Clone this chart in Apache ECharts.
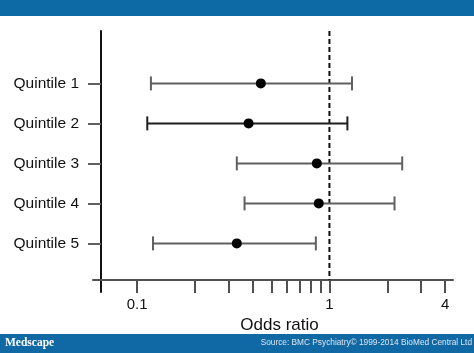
<!DOCTYPE html>
<html>
	<head>
		<meta charset="UTF-8">
		<title>Odds ratio by quintile</title>
		<script src="https://cdn.jsdelivr.net/npm/echarts@6/dist/echarts.min.js"></script>
		<style>
			html, body { margin: 0; padding: 0; background: #fff; }
			#chart { width: 474px; height: 353px; }
		</style>
	</head>
	<body>
		<div id="chart"></div>
		<script>
			// data
			var quintiles = ['Quintile 1', 'Quintile 2', 'Quintile 3', 'Quintile 4', 'Quintile 5'];
			var oddsRatio = [0.44, 0.38, 0.86, 0.88, 0.33];
			var ciLow = [0.118, 0.113, 0.33, 0.362, 0.121];
			var ciHigh = [1.31, 1.24, 2.39, 2.18, 0.85];
			var barColors = ['#606060', '#1e1e1e', '#606060', '#606060', '#606060'];
			var xTicks = [0.1, 0.2, 0.3, 0.4, 0.5, 0.6, 0.7, 0.8, 0.9, 1, 2, 3, 4];
			var xLabels = [0.1, 1, 4];
			var refValue = 1;

			var yMin = -0.31, yMax = 6.215, yAxisLine = 5.907;

			var rows = quintiles.map(function (q, i) {
				return [i + 1, ciLow[i], ciHigh[i], oddsRatio[i]];
			});

			var chart = echarts.init(document.getElementById('chart'), null, { renderer: 'canvas' });

			chart.setOption({
				animation: false,
				grid: { left: 93, right: 21, top: 31, bottom: 61 },
				xAxis: {
					type: 'log',
					logBase: 10,
					min: 0.059,
					max: 4.39,
					position: 'bottom',
					offset: -12,
					name: 'Odds ratio',
					nameLocation: 'middle',
					nameGap: 32,
					nameTextStyle: { fontFamily: 'Liberation Sans', fontSize: 17, color: '#111', padding: [0, 0, 0, 13] },
					axisLine: { onZero: false, lineStyle: { color: '#505050', width: 2 } },
					axisTick: { length: 13, customValues: xTicks, lineStyle: { color: '#505050', width: 2 } },
					axisLabel: {
						customValues: xLabels, margin: 17,
						fontFamily: 'Liberation Sans', fontSize: 15, color: '#111',
						formatter: function (v) { return String(+v.toPrecision(3)); }
					},
					splitLine: { show: false },
					minorTick: { show: false }
				},
				yAxis: {
					type: 'value',
					inverse: true,
					min: yMin,
					max: yMax,
					offset: -8,
					axisLine: { show: true, onZero: false, lineStyle: { color: '#111', width: 2 } },
					axisTick: { show: true, length: 13, customValues: [1, 2, 3, 4, 5], lineStyle: { color: '#606060', width: 2 } },
					axisLabel: {
						customValues: [1, 2, 3, 4, 5], margin: 22,
						fontFamily: 'Liberation Sans', fontSize: 15.5, color: '#111',
						formatter: function (v) { return quintiles[Math.round(v) - 1] || ''; }
					},
					splitLine: { show: false }
				},
				graphic: [
					{ type: 'rect', left: 0, top: 0, shape: { width: 474, height: 16 }, style: { fill: '#0e6aa5' } },
					{ type: 'rect', left: 0, top: 334, shape: { width: 474, height: 19 }, style: { fill: '#1069a5' } },
					{ type: 'text', left: 5, top: 337, style: { text: 'Medscape', fill: '#fff', font: 'bold 11.5px "Liberation Serif"' } },
					{ type: 'text', right: 2, top: 339, style: { text: 'Source: BMC Psychiatry\u00a9 1999-2014 BioMed Central Ltd', fill: '#dce6f0', font: '8.3px "Liberation Sans"' } }
				],
				series: [
					{
						type: 'line',
						data: [[refValue, yMin], [refValue, yAxisLine]],
						symbol: 'none',
						lineStyle: { color: '#111', width: 2, type: [5, 3] },
						z: 1
					},
					{
						type: 'custom',
						data: rows,
						encode: { x: [1, 2], y: 0 },
						renderItem: function (params, api) {
							var y = api.value(0);
							var a = api.coord([api.value(1), y]);
							var b = api.coord([api.value(2), y]);
							var h = 7;
							var style = { stroke: barColors[params.dataIndex], lineWidth: 2 };
							return {
								type: 'group',
								children: [
									{ type: 'line', shape: { x1: a[0], y1: a[1], x2: b[0], y2: b[1] }, style: style },
									{ type: 'line', shape: { x1: a[0], y1: a[1] - h, x2: a[0], y2: a[1] + h }, style: style },
									{ type: 'line', shape: { x1: b[0], y1: b[1] - h, x2: b[0], y2: b[1] + h }, style: style }
								]
							};
						},
						z: 2
					},
					{
						type: 'scatter',
						data: rows.map(function (r) { return [r[3], r[0]]; }),
						symbol: 'circle',
						symbolSize: 10,
						itemStyle: { color: '#000', opacity: 1 },
						z: 3
					}
				]
			});
		</script>
	</body>
</html>
